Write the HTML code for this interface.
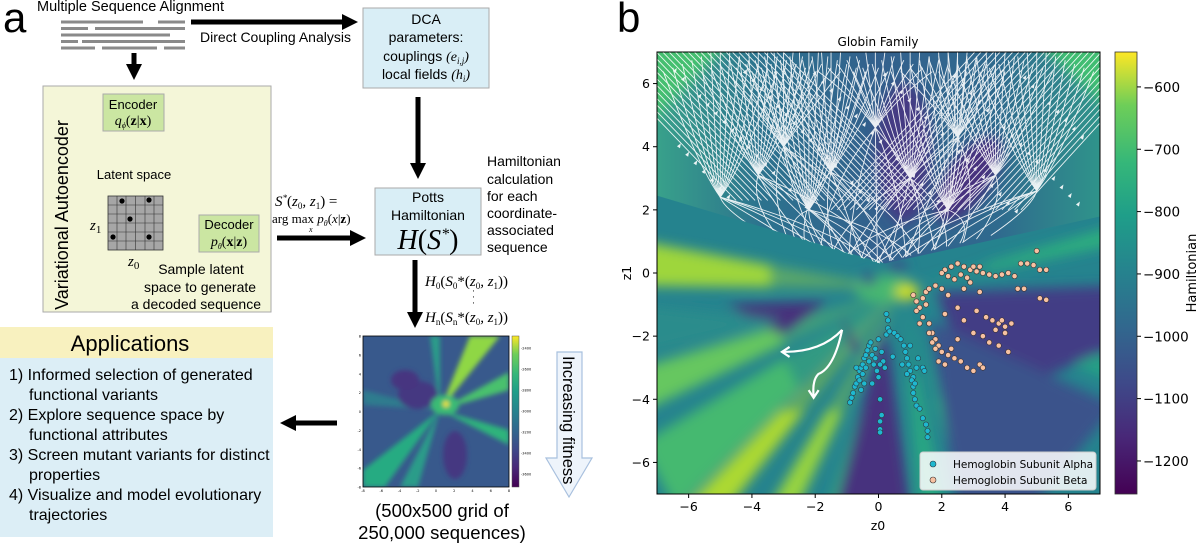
<!DOCTYPE html>
<html><head><meta charset="utf-8"><style>
html,body{margin:0;padding:0;background:#fff;}
svg{display:block;}
.s{font-family:"Liberation Sans",sans-serif;}
.m{font-family:"Liberation Serif",serif;font-style:italic;}
.d{font-family:"DejaVu Sans","Liberation Sans",sans-serif;}
</style></head><body>
<svg id="fig" width="1200" height="544" viewBox="0 0 1200 544" xmlns="http://www.w3.org/2000/svg">
<defs>
<marker id="ah" viewBox="0 0 10 10" refX="5" refY="5" markerWidth="3.2" markerHeight="3.2" orient="auto"><path d="M0,0 L10,5 L0,10 z" fill="#000"/></marker>
<filter id="blur6" x="-20%" y="-20%" width="140%" height="140%"><feGaussianBlur stdDeviation="6"/></filter>
<filter id="blur3"><feGaussianBlur stdDeviation="2.5"/></filter>
<linearGradient id="vir" x1="0" y1="1" x2="0" y2="0">
<stop offset="0" stop-color="#440154"/><stop offset="0.13" stop-color="#482878"/><stop offset="0.25" stop-color="#3e4989"/><stop offset="0.38" stop-color="#31688e"/><stop offset="0.5" stop-color="#26828e"/><stop offset="0.63" stop-color="#1f9e89"/><stop offset="0.75" stop-color="#35b779"/><stop offset="0.88" stop-color="#6ece58"/><stop offset="1" stop-color="#fde725"/>
</linearGradient>
<linearGradient id="upg" x1="0" y1="0" x2="1" y2="0">
<stop offset="0" stop-color="#3aa88a"/><stop offset="0.25" stop-color="#2c738e"/><stop offset="0.5" stop-color="#33608d"/><stop offset="0.75" stop-color="#2f6a8e"/><stop offset="1" stop-color="#2f9a8a"/>
</linearGradient>
<clipPath id="plotclip"><rect x="657" y="52" width="443" height="442"/></clipPath>
<clipPath id="smallclip"><rect x="363" y="336" width="146" height="151"/></clipPath>
</defs>

<!-- PANEL A -->
<text class="s" x="3" y="32" font-size="42">a</text>
<text class="s" x="37" y="11" font-size="14.5">Multiple Sequence Alignment</text>
<g fill="#8a8a8a">
<rect x="61" y="20.5" width="82" height="3"/><rect x="158" y="20.5" width="27" height="3"/>
<rect x="61" y="27" width="27" height="3"/><rect x="95" y="27" width="90" height="3"/>
<rect x="61" y="33.5" width="109" height="3"/>
<rect x="61" y="40" width="17" height="3"/><rect x="82" y="40" width="103" height="3"/>
<rect x="61" y="46.5" width="34" height="3"/><rect x="102" y="46.5" width="55" height="3"/><rect x="164" y="46.5" width="21" height="3"/>
</g>
<g stroke="#000" stroke-width="5" fill="none">
<line x1="191" y1="22" x2="350" y2="22" marker-end="url(#ah)"/>
<line x1="134" y1="53" x2="134" y2="72" marker-end="url(#ah)"/>
<line x1="134" y1="136" x2="134" y2="156" marker-end="url(#ah)"/>
<line x1="170" y1="233" x2="190" y2="233" marker-end="url(#ah)"/>
<line x1="277" y1="238" x2="358" y2="238" marker-end="url(#ah)"/>
<line x1="418" y1="97" x2="418" y2="171" marker-end="url(#ah)"/>
<line x1="415" y1="260" x2="415" y2="320" marker-end="url(#ah)"/>
<line x1="337" y1="423" x2="288" y2="423" marker-end="url(#ah)"/>
</g>
<text class="s" x="200" y="42" font-size="14">Direct Coupling Analysis</text>
<rect x="363" y="8" width="126" height="80" fill="#d9eef6" stroke="#aaa"/>
<g class="s" font-size="14" text-anchor="middle">
<text x="426" y="24">DCA</text><text x="426" y="42">parameters:</text>
<text x="426" y="61">couplings <tspan class="m">(e<tspan font-size="9" dy="3">i,j</tspan><tspan dy="-3">)</tspan></tspan></text>
<text x="426" y="79">local fields <tspan class="m">(h<tspan font-size="9" dy="3">i</tspan><tspan dy="-3">)</tspan></tspan></text>
</g>
<rect x="43" y="86" width="228" height="226" fill="#f4f6d8" stroke="#aaa"/>
<text class="s" font-size="18" transform="translate(68,215) rotate(-90)" text-anchor="middle">Variational Autoencoder</text>
<rect x="103" y="94" width="61" height="37" fill="#cbe6a2" stroke="#aaa"/>
<text class="s" x="133" y="109" font-size="13" text-anchor="middle">Encoder</text>
<text class="m" x="133" y="125" font-size="14" text-anchor="middle">q<tspan font-size="8" dy="3">ϕ</tspan><tspan dy="-3" font-style="normal">(<tspan font-weight="bold">z</tspan>|<tspan font-weight="bold">x</tspan>)</tspan></text>
<text class="s" x="134" y="179" font-size="13" text-anchor="middle">Latent space</text>
<g>
<rect x="108" y="196" width="55" height="54" fill="#a6a6a6" stroke="#333" stroke-width="0.8"/>
<g stroke="#333" stroke-width="0.6">
<line x1="117" y1="196" x2="117" y2="250"/><line x1="126" y1="196" x2="126" y2="250"/><line x1="135.5" y1="196" x2="135.5" y2="250"/><line x1="145" y1="196" x2="145" y2="250"/><line x1="154" y1="196" x2="154" y2="250"/>
<line x1="108" y1="205" x2="163" y2="205"/><line x1="108" y1="214" x2="163" y2="214"/><line x1="108" y1="223" x2="163" y2="223"/><line x1="108" y1="232" x2="163" y2="232"/><line x1="108" y1="241" x2="163" y2="241"/>
</g>
<g fill="#000"><circle cx="122" cy="201" r="2.6"/><circle cx="149" cy="200" r="2.6"/><circle cx="130" cy="219" r="2.6"/><circle cx="113" cy="237" r="2.6"/><circle cx="149" cy="237" r="2.6"/></g>
</g>
<text class="m" x="90" y="230" font-size="15">z<tspan font-size="11" dy="3" font-style="normal">1</tspan></text>
<text class="m" x="128" y="266" font-size="15">z<tspan font-size="11" dy="3" font-style="normal">0</tspan></text>
<rect x="199" y="215" width="60" height="37" fill="#cbe6a2" stroke="#aaa"/>
<text class="s" x="229" y="229" font-size="13" text-anchor="middle">Decoder</text>
<text class="m" x="229" y="246" font-size="14" text-anchor="middle">p<tspan font-size="8" dy="3">θ</tspan><tspan dy="-3" font-style="normal">(<tspan font-weight="bold">x</tspan>|<tspan font-weight="bold">z</tspan>)</tspan></text>
<g class="s" font-size="14" text-anchor="middle">
<text x="201" y="274">Sample latent</text><text x="200" y="292">space to generate</text><text x="196" y="309">a decoded sequence</text>
</g>
<text class="m" x="275" y="206" font-size="15">S<tspan font-size="9" dy="-5">*</tspan><tspan dy="5" font-style="normal">(</tspan>z<tspan font-size="9" dy="3" font-style="normal">0</tspan><tspan dy="-3">, z</tspan><tspan font-size="9" dy="3" font-style="normal">1</tspan><tspan dy="-3" font-style="normal">) =</tspan></text>
<text class="m" x="272" y="223" font-size="13"><tspan font-style="normal">arg max</tspan> p<tspan font-size="8" dy="3">θ</tspan><tspan dy="-3" font-style="normal">(</tspan>x<tspan font-style="normal">|</tspan><tspan font-style="normal" font-weight="bold">z</tspan><tspan font-style="normal">)</tspan></text>
<text class="m" x="309" y="232" font-size="8">x</text>
<rect x="375" y="188" width="106" height="67" fill="#d9eef6" stroke="#aaa"/>
<text class="s" x="428" y="202" font-size="14" text-anchor="middle">Potts</text>
<text class="s" x="428" y="220" font-size="14" text-anchor="middle">Hamiltonian</text>
<text class="m" x="428" y="249" font-size="28" text-anchor="middle">H<tspan font-style="normal">(</tspan>S<tspan font-size="16" dy="-10">*</tspan><tspan dy="10" font-style="normal">)</tspan></text>
<g class="s" font-size="14">
<text x="487" y="166">Hamiltonian</text><text x="487" y="184">calculation</text><text x="487" y="201">for each</text><text x="487" y="218">coordinate-</text><text x="487" y="235">associated</text><text x="487" y="252">sequence</text>
</g>
<text class="m" x="425" y="286" font-size="15">H<tspan font-size="9" dy="3" font-style="normal">0</tspan><tspan dy="-3" font-style="normal">(</tspan>S<tspan font-size="9" dy="3" font-style="normal">0</tspan><tspan dy="-3" font-style="normal">*(</tspan>z<tspan font-size="9" dy="3" font-style="normal">0</tspan><tspan dy="-3">, z</tspan><tspan font-size="9" dy="3" font-style="normal">1</tspan><tspan dy="-3" font-style="normal">))</tspan></text>
<text x="472" y="294" font-size="9">·</text><text x="472" y="300" font-size="9">·</text><text x="472" y="306" font-size="9">·</text>
<text class="m" x="425" y="322" font-size="15">H<tspan font-size="9" dy="3" font-style="normal">n</tspan><tspan dy="-3" font-style="normal">(</tspan>S<tspan font-size="9" dy="3" font-style="normal">n</tspan><tspan dy="-3" font-style="normal">*(</tspan>z<tspan font-size="9" dy="3" font-style="normal">0</tspan><tspan dy="-3">, z</tspan><tspan font-size="9" dy="3" font-style="normal">1</tspan><tspan dy="-3" font-style="normal">))</tspan></text>

<rect x="0" y="327" width="273" height="31" fill="#f8f1bf"/>
<text class="s" x="130" y="351" font-size="22" text-anchor="middle">Applications</text>
<rect x="0" y="358" width="273" height="179" fill="#dceef6"/>
<g class="s" font-size="16">
<text x="9" y="380">1) Informed selection of generated</text><text x="29" y="400">functional variants</text>
<text x="9" y="420">2) Explore sequence space by</text><text x="29" y="440">functional attributes</text>
<text x="9" y="460">3) Screen mutant variants for distinct</text><text x="29" y="480">properties</text>
<text x="9" y="500">4) Visualize and model evolutionary</text><text x="29" y="520">trajectories</text>
</g>

<!-- small heatmap -->
<g>
<g clip-path="url(#smallclip)">
<rect x="363" y="336" width="146" height="151" fill="#38598c"/>
<g filter="url(#blur3)">
<polygon points="440,410 470,336 500,336" fill="#8fd744"/>
<polygon points="440,410 509,372 509,390" fill="#4ac16d"/>
<polygon points="440,410 509,430 509,445" fill="#2fb47c"/>
<polygon points="440,410 363,470 363,487 385,487" fill="#25ab82"/>
<polygon points="440,410 430,336 440,336" fill="#2a9c89"/>
<polygon points="440,410 400,487 418,487" fill="#2a9c89"/>
<polygon points="440,410 363,390 363,405" fill="#2d7b8e"/>
<ellipse cx="418" cy="395" rx="20" ry="14" fill="#453781"/>
<ellipse cx="455" cy="455" rx="12" ry="24" fill="#453781"/>
<ellipse cx="405" cy="380" rx="14" ry="10" fill="#463480"/>
<ellipse cx="445" cy="405" rx="14" ry="10" fill="#3bbb75"/>
<circle cx="446" cy="404" r="3" fill="#fde725"/>
</g></g>
<rect x="363" y="336" width="146" height="151" fill="none" stroke="#000" stroke-width="0.8"/>
<rect x="512" y="336" width="7" height="151" fill="url(#vir)" stroke="#555" stroke-width="0.5"/>
<g id="smallTicks" class="d" font-size="3.5" fill="#000"></g>
</g>
<g>
<polygon points="557,352 582,352 582,458 592,458 569,497 546,458 557,458" fill="#eef4fb" stroke="#a8c0de" stroke-width="1.2"/>
<text class="s" font-size="16.5" transform="translate(563,356) rotate(90)">Increasing fitness</text>
</g>
<g class="s" font-size="18.5" text-anchor="middle">
<text x="442" y="517">(500x500 grid of</text><text x="442" y="539">250,000 sequences)</text>
</g>

<!-- PANEL B -->
<text class="s" x="617" y="32" font-size="42">b</text>
<text class="d" x="878" y="46" font-size="12" text-anchor="middle">Globin Family</text>
<g id="plotArea" clip-path="url(#plotclip)"></g>
<rect x="657" y="52" width="443" height="442" fill="none" stroke="#000" stroke-width="1"/>
<g id="axes" class="d" font-size="12.5"></g>
<rect x="1115" y="52" width="22" height="442" fill="url(#vir)" stroke="#333" stroke-width="0.8"/>
<g id="cbAxis" class="d" font-size="13.5"></g>
<text class="d" font-size="13" transform="translate(1196,273) rotate(-90)" text-anchor="middle">Hamiltonian</text>
<text class="d" x="878" y="530" font-size="12.5" text-anchor="middle">z0</text>
<text class="d" font-size="12.5" transform="translate(631,273) rotate(-90)" text-anchor="middle">z1</text>
<g id="legend" class="d" font-size="10.5"></g>
</svg>
<script>
const xTicks = [-6, -4, -2, 0, 2, 4, 6];
const yTicks = [-6, -4, -2, 0, 2, 4, 6];
const cbTicks = [-600, -700, -800, -900, -1000, -1100, -1200];
const smallTicks = [-8, -6, -4, -2, 0, 2, 4, 6, 8];
const smallCbTicks = [-2400, -2600, -2800, -3000, -3200, -3400, -3600];
const alphaZ0 = [-0.9,-0.85,-0.8,-0.75,-0.7,-0.65,-0.6,-0.55,-0.5,-0.45,-0.4,-0.35,-0.3,-0.25,-0.7,-0.6,-0.5,-0.4,-0.3,-0.2,-0.1,-0.15,-0.05,0.0,-0.1,0.1,0.15,0.2,0.05,-0.45,-0.55,0.25,0.3,0.3,0.25,0.35,0.5,0.6,0.7,0.8,0.85,0.9,0.95,1.0,1.1,1.1,1.1,1.15,1.2,1.3,1.05,1.2,1.25,1.4,1.45,0.45,0.75,1.4,1.5,1.55,1.55,0.05,0.1,0.05,0.05,0.05,1.0,-0.2,0.0,0.9,1.15];
const alphaZ1 = [-4.1,-3.95,-3.8,-3.6,-3.5,-3.3,-3.1,-3.0,-2.9,-2.7,-2.6,-2.45,-2.3,-2.2,-3.0,-3.4,-3.2,-3.0,-2.8,-2.6,-2.4,-2.9,-3.1,-3.3,-2.7,-2.5,-2.8,-3.0,-2.9,-3.5,-3.7,-1.3,-1.5,-1.75,-1.95,-1.85,-1.9,-2.0,-2.1,-2.3,-2.5,-2.7,-2.9,-3.1,-3.3,-3.6,-3.8,-4.0,-4.2,-4.3,-3.4,-3.0,-2.7,-3.0,-3.1,-2.65,-2.9,-4.6,-4.8,-5.0,-5.2,-4.0,-4.5,-4.7,-4.95,-5.05,-2.3,-3.5,-2.1,-3.2,-3.5];
const betaZ0 = [2.1,2.3,2.5,2.7,2.9,3.1,3.3,3.5,3.7,3.9,4.1,4.3,4.5,4.7,4.9,5.1,5.3,5.0,2.0,2.2,2.4,2.6,2.8,3.0,3.2,1.1,1.2,1.3,1.4,1.5,1.6,1.8,2.0,2.2,1.2,1.4,1.6,1.7,1.8,1.9,2.0,2.2,2.4,2.6,2.8,3.0,1.6,1.8,2.1,3.2,3.3,2.5,2.7,3.0,3.1,3.4,3.6,3.8,4.0,3.3,3.5,3.8,4.1,3.7,4.0,4.2,3.2,2.7,4.4,5.1,5.3,2.5,1.3,1.5,1.9,2.3,2.1,1.7,2.9,3.9,4.6];
const betaZ1 = [0.1,0.2,0.3,0.2,0.1,0.05,0.0,-0.05,-0.1,-0.05,0.0,-0.1,0.3,0.3,0.25,0.1,0.1,0.7,0.0,-0.1,-0.2,-0.05,-0.15,0.2,0.2,-0.7,-0.9,-1.1,-0.8,-0.6,-0.5,-0.4,-0.5,-0.7,-1.2,-1.4,-1.6,-1.9,-2.1,-2.3,-2.5,-2.6,-2.7,-2.8,-3.0,-3.1,-1.9,-2.4,-2.9,-2.9,-3.0,-1.1,-1.5,-1.9,-1.2,-1.4,-1.5,-1.6,-1.7,-2.0,-2.2,-2.3,-2.5,-1.8,-1.9,-1.6,-0.6,-0.5,-0.5,-0.8,-0.85,-2.1,-1.6,-1.0,-2.8,-2.4,-1.3,-2.2,-0.3,-1.5,-0.5];

const NS = 'http://www.w3.org/2000/svg';
const X0 = 657, X1 = 1100, Y0 = 52, Y1 = 494;
function sx(v) { return X0 + (v + 7) / 14 * (X1 - X0); }
function sy(v) { return Y1 - (v + 7) / 14 * (Y1 - Y0); }
function cy(v) { return Y0 + (-544 - v) / (-544 + 1253) * (Y1 - Y0); }
function mk(tag, attrs, parent) {
  const e = document.createElementNS(NS, tag);
  for (const k in attrs) e.setAttribute(k, attrs[k]);
  parent.appendChild(e); return e;
}
function pts(arr) { return arr.map(p => sx(p[0]) + ',' + sy(p[1])).join(' '); }

const plot = document.getElementById('plotArea');
mk('rect', {x: X0, y: Y0, width: X1 - X0, height: Y1 - Y0, fill: '#25838e'}, plot);
const bg = mk('g', {filter: 'url(#blur6)'}, plot);
const C = [0.7, -0.5];
// rays start partway out so they brighten toward the edges
function ray(a, b, col, f, op) {
  const pa = [C[0] + (a[0] - C[0]) * f, C[1] + (a[1] - C[1]) * f];
  const pb = [C[0] + (b[0] - C[0]) * f, C[1] + (b[1] - C[1]) * f];
  mk('polygon', {points: pts([C, a, b]), fill: col, opacity: op * 0.45}, bg);
  mk('polygon', {points: pts([pa, a, b, pb]), fill: col, opacity: op}, bg);
}
ray([-7.5, 1.0], [-7.5, -0.4], '#a6db35', 0.5, 0.9);
ray([-7.5, -3.0], [-7.5, -4.4], '#6ccd5a', 0.45, 0.85);
ray([-7.5, -5.4], [-6.4, -7.5], '#4ac16d', 0.45, 0.8);
ray([-6.2, -7.5], [-4.8, -7.5], '#b5de2b', 0.55, 0.9);
ray([-3.5, -7.5], [-2.6, -7.5], '#a0da39', 0.55, 0.9);
ray([-1.6, -7.5], [-1.0, -7.5], '#3dbc74', 0.4, 0.8);
ray([1.3, -7.5], [2.1, -7.5], '#28ae80', 0.4, 0.8);
ray([2.8, -7.5], [3.4, -7.5], '#2fb47c', 0.5, 0.7);
ray([7.5, -3.5], [7.5, -2.8], '#25a584', 0.5, 0.8);
ray([7.5, 0.9], [7.5, 1.5], '#2fb47c', 0.4, 0.8);
mk('polygon', {points: pts([[0.2, -1.6], [-1.4, -7.5], [1.0, -7.5]]), fill: '#46307e'}, bg);
mk('polygon', {points: pts([[1.8, -0.6], [7.5, -0.4], [7.5, -2.3], [3.2, -4.2]]), fill: '#433e85'}, bg);
mk('polygon', {points: pts([[1.6, -1.5], [2.5, -7.5], [4.8, -7.5], [7.5, -4.2]]), fill: '#3b528b'}, bg);
mk('polygon', {points: pts([[-1.6, -0.9], [-4.8, -1.0], [-3.0, -2.0]]), fill: '#472d7b'}, bg);
mk('polygon', {points: pts([[-1.2, -1.2], [-0.5, -2.6], [-0.9, -2.4]]), fill: '#482878'}, bg);
mk('polygon', {points: pts([[-7.5, -1.0], [-7.5, -2.6], [-3, -1.5]]), fill: '#2a8c8c'}, bg);
mk('ellipse', {cx: sx(0.2), cy: sy(-0.5), rx: 30, ry: 14, fill: '#4cc26c', opacity: 0.8}, bg);
mk('ellipse', {cx: sx(0.9), cy: sy(-0.6), rx: 12, ry: 8, fill: '#d8e219'}, bg);
mk('ellipse', {cx: sx(-0.3), cy: sy(-0.2), rx: 7, ry: 6, fill: '#3e4989'}, bg);
mk('ellipse', {cx: sx(0.6), cy: sy(0.2), rx: 10, ry: 5, fill: '#3e4989'}, bg);

// upper streamline region
const upper = [[-7.5, 7.5], [7.5, 7.5], [7.5, 1.9], [0.2, 0.3], [-7.5, 2.6]];
mk('polygon', {points: pts(upper), fill: 'url(#upg)'}, plot);
const ub = mk('g', {filter: 'url(#blur6)'}, plot);
mk('ellipse', {cx: sx(0.8), cy: sy(3.8), rx: 28, ry: 70, fill: '#443a83'}, ub);
mk('ellipse', {cx: sx(3.4), cy: sy(2.8), rx: 22, ry: 50, fill: '#46307e', transform: 'rotate(35 ' + sx(3.4) + ' ' + sy(3.8) + ')'}, ub);
mk('polygon', {points: pts([[-7.5, 7.5], [-4.5, 7.5], [-7.5, 4.5]]), fill: '#45bf70'}, ub);
mk('polygon', {points: pts([[7.5, 7.5], [4.8, 7.5], [7.5, 5.0]]), fill: '#40bd72'}, ub);

// decorative streamlines
const clipU = mk('clipPath', {id: 'upclip'}, plot);
mk('polygon', {points: pts([[-7, 7], [7, 7], [7, 1.9], [0.2, 0.25], [-7, 2.5]])}, clipU);
const sl = mk('g', {'clip-path': 'url(#upclip)', stroke: '#fff', 'stroke-width': 0.9, fill: 'none', opacity: 0.9}, plot);
for (let i = 0; i <= 30; i++) {
  const x = -7 + i * 0.2;
  mk('line', {x1: sx(x - 2.5), y1: sy(7.5), x2: sx(x + 2.5), y2: sy(2.3)}, sl);
  const xr = 7 - i * 0.2;
  mk('line', {x1: sx(xr + 2.5), y1: sy(7.5), x2: sx(xr - 2.5), y2: sy(2.0)}, sl);
}
const nodes = [[-5.0, 2.4], [-3.8, 3.1], [-3.0, 4.0], [-0.1, 4.6], [2.5, 4.3], [3.7, 3.1], [5.0, 2.6], [1.0, 3.0], [-1.5, 3.2], [-2.2, 2.0], [2.2, 2.0]];
nodes.forEach((n, k) => {
  for (let j = -6; j <= 6; j++) {
    const sxp = n[0] + j * 0.3, syp = 7.1 - Math.abs(j) * 0.12;
    mk('path', {d: 'M' + sx(sxp) + ',' + sy(syp) + ' Q' + sx(n[0] + j * 0.12) + ',' + sy(n[1] + 1.0) + ' ' + sx(n[0]) + ',' + sy(n[1])}, sl);
  }
  for (let j = -2; j <= 2; j++) {
    const ex = n[0] * 0.35 + j * 0.9, ey = 0.3 + Math.abs(ex) * 0.25;
    mk('path', {d: 'M' + sx(n[0]) + ',' + sy(n[1]) + ' Q' + sx((n[0] + ex) / 2 + j * 0.3) + ',' + sy((n[1] + ey) / 2 + 0.2) + ' ' + sx(ex) + ',' + sy(ey)}, sl);
  }
});
for (let i = 0; i < 90; i++) {
  const a = (i * 37) % 100, b = (i * 61) % 100;
  mk('path', {d: 'M' + (sx(-6.5 + a * 0.13)) + ',' + (sy(6.4 - b * 0.045)) + ' l4,-3 l-1,5 z', fill: '#fff', stroke: 'none'}, sl);
}

// scatter
const sc = mk('g', {}, plot);
alphaZ0.forEach((v, i) => {
  const c = mk('circle', {cx: sx(v), cy: sy(alphaZ1[i]), r: 2.6, fill: '#1fb8cf', stroke: '#2b3a44', 'stroke-width': 0.6}, sc);
  
  
});
betaZ0.forEach((v, i) => {
  const c = mk('circle', {cx: sx(v), cy: sy(betaZ1[i]), r: 2.6, fill: '#f7c2a2', stroke: '#3a3030', 'stroke-width': 0.6}, sc);
  
  
});
const wa = mk('g', {stroke: '#fff', 'stroke-width': 2.2, fill: 'none'}, plot);
mk('path', {d: 'M' + sx(-1.15) + ',' + sy(-1.8) + ' Q' + sx(-1.8) + ',' + sy(-2.5) + ' ' + sx(-3.0) + ',' + sy(-2.5)}, wa);
mk('path', {d: 'M' + sx(-1.15) + ',' + sy(-1.8) + ' Q' + sx(-1.4) + ',' + sy(-3.0) + ' ' + sx(-1.9) + ',' + sy(-3.2) + ' Q' + sx(-2.1) + ',' + sy(-3.4) + ' ' + sx(-2.05) + ',' + sy(-3.9)}, wa);
mk('path', {d: 'M' + (sx(-3.0) + 6) + ',' + (sy(-2.5) - 5) + ' L' + sx(-3.05) + ',' + sy(-2.5) + ' L' + (sx(-3.0) + 6) + ',' + (sy(-2.5) + 5)}, wa);
mk('path', {d: 'M' + (sx(-2.05) - 5) + ',' + (sy(-3.9) - 6) + ' L' + sx(-2.05) + ',' + sy(-3.95) + ' L' + (sx(-2.05) + 5) + ',' + (sy(-3.9) - 6)}, wa);

// axes
const ax = document.getElementById('axes');
xTicks.forEach(t => {
  mk('line', {x1: sx(t), y1: Y1, x2: sx(t), y2: Y1 + 4, stroke: '#000'}, ax);
  const tx = mk('text', {x: sx(t), y: Y1 + 17, 'text-anchor': 'middle'}, ax);
  tx.textContent = (t < 0 ? '\u2212' + (-t) : t);
  
  
});
yTicks.forEach(t => {
  mk('line', {x1: X0 - 4, y1: sy(t), x2: X0, y2: sy(t), stroke: '#000'}, ax);
  const tx = mk('text', {x: X0 - 7, y: sy(t) + 4.5, 'text-anchor': 'end'}, ax);
  tx.textContent = (t < 0 ? '\u2212' + (-t) : t);
  
  
});
const cb = document.getElementById('cbAxis');
cbTicks.forEach(t => {
  mk('line', {x1: 1137, y1: cy(t), x2: 1141, y2: cy(t), stroke: '#000'}, cb);
  const tx = mk('text', {x: 1143, y: cy(t) + 5}, cb);
  tx.textContent = '\u2212' + (-t);
  
  
});
const lg = document.getElementById('legend');
mk('rect', {x: 920, y: 452, width: 176, height: 38, rx: 3, fill: '#fff', 'fill-opacity': 0.85, stroke: '#ccc'}, lg);
mk('circle', {cx: 933, cy: 464, r: 3, fill: '#1fb8cf', stroke: '#2b3a44', 'stroke-width': 0.6}, lg);
mk('circle', {cx: 933, cy: 480, r: 3, fill: '#f7c2a2', stroke: '#3a3030', 'stroke-width': 0.6}, lg);
const l1 = mk('text', {x: 953, y: 468}, lg); l1.textContent = 'Hemoglobin Subunit Alpha';


const l2 = mk('text', {x: 953, y: 484}, lg); l2.textContent = 'Hemoglobin Subunit Beta';


const st = document.getElementById('smallTicks');
smallTicks.forEach(t => {
  const x = 363 + (t + 8) / 16 * 146, y = 487 - (t + 8) / 16 * 151;
  const a = mk('text', {x: x, y: 492, 'text-anchor': 'middle'}, st); a.textContent = t;
  const b = mk('text', {x: 361, y: y + 1.5, 'text-anchor': 'end'}, st); b.textContent = t;
});
smallCbTicks.forEach((t, i) => {
  const y = 348 + i * 21;
  const a = mk('text', {x: 521, y: y + 1.5}, st); a.textContent = t;
});
</script>
</body></html>
